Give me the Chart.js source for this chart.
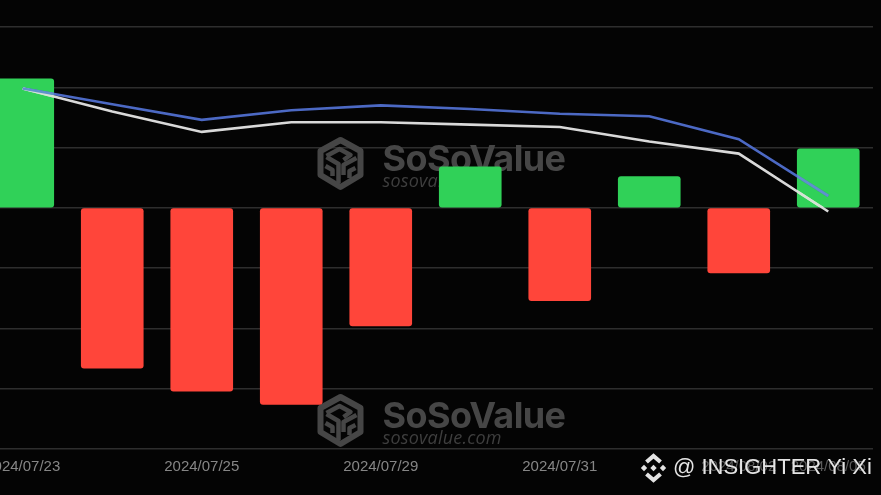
<!DOCTYPE html>
<html>
<head>
<meta charset="utf-8">
<script src="https://cdn.jsdelivr.net/npm/chart.js@4"></script>
<style>
  html, body { margin: 0; padding: 0; background: #040404; overflow: hidden; }
  #wrap { position: absolute; left: -22.5px; top: 0; width: 895px; height: 495px; filter: blur(0.45px); }
</style>
</head>
<body>
<div id="wrap"><canvas id="chart"></canvas></div>
<script>
const categories = ['2024/07/23', '2024/07/24', '2024/07/25', '2024/07/26', '2024/07/29',
  '2024/07/30', '2024/07/31', '2024/08/01', '2024/08/02', '2024/08/05'];
const netFlow = [107, -133, -152, -163, -98, 34, -77, 26, -54, 49];
const blueLine = [99, 86, 73, 81, 85, 82, 78, 76, 57, 10];
const whiteLine = [99, 80, 63, 71, 71, 69, 67, 55, 45, -3];
const GREEN = '#30d158';
const RED = '#ff453a';

// SoSoValue logo + text, goes under the bars
function drawLogo(ctx, x, y) {
  ctx.save();
  ctx.strokeStyle = '#464646';
  ctx.lineWidth = 6;
  ctx.lineJoin = 'round';
  ctx.beginPath();
  ctx.moveTo(x, y - 23);
  ctx.lineTo(x + 20, y - 12);
  ctx.lineTo(x + 20, y + 12);
  ctx.lineTo(x, y + 24);
  ctx.lineTo(x - 20, y + 12);
  ctx.lineTo(x - 20, y - 12);
  ctx.closePath();
  ctx.stroke();
  ctx.lineWidth = 4.5;
  ctx.beginPath();
  ctx.moveTo(x - 14, y - 7); ctx.lineTo(x - 1, y - 14); ctx.lineTo(x + 10, y - 8); ctx.lineTo(x + 3, y - 3);
  ctx.moveTo(x - 2, y + 20); ctx.lineTo(x - 2, y + 1); ctx.lineTo(x - 14, y - 6);
  ctx.moveTo(x + 16, y - 5); ctx.lineTo(x + 3, y + 2); ctx.lineTo(x + 3, y + 12);
  ctx.moveTo(x - 15, y + 3); ctx.lineTo(x - 8, y + 7); ctx.lineTo(x - 8, y + 13);
  ctx.moveTo(x + 15, y + 5); ctx.lineTo(x + 9, y + 8); ctx.lineTo(x + 9, y + 15);
  ctx.stroke();
  ctx.fillStyle = '#464646';
  ctx.textBaseline = 'alphabetic';
  ctx.font = 'bold 36px Inter, "Liberation Sans"';
  ctx.letterSpacing = '-0.6px';
  ctx.fillText('SoSoValue', x + 42, y + 8);
  ctx.letterSpacing = '0.2px';
  ctx.font = 'italic 18px "Open Sans", "Liberation Sans"';
  ctx.fillStyle = '#3e3e3e';
  ctx.fillText('sosovalue.com', x + 42, y + 24);
  ctx.restore();
}

// Binance mark: centre + side diamonds, chevrons above and below
function drawCreditMark(ctx, cx, cy) {
  const diamond = (x, y, r) => {
    ctx.beginPath();
    ctx.moveTo(x, y - r);
    ctx.lineTo(x + r, y);
    ctx.lineTo(x, y + r);
    ctx.lineTo(x - r, y);
    ctx.closePath();
    ctx.fill();
  };
  diamond(cx, cy, 3.2);
  diamond(cx - 9.5, cy, 3.2);
  diamond(cx + 9.5, cy, 3.2);
  ctx.lineWidth = 4.2;
  ctx.beginPath();
  ctx.moveTo(cx - 7, cy - 6); ctx.lineTo(cx, cy - 12); ctx.lineTo(cx + 7, cy - 6);
  ctx.moveTo(cx - 7, cy + 6); ctx.lineTo(cx, cy + 12); ctx.lineTo(cx + 7, cy + 6);
  ctx.stroke();
}

const watermarkPlugin = {
  id: 'watermark',
  beforeDatasetsDraw(chart) {
    drawLogo(chart.ctx, 362.5, 163);
    drawLogo(chart.ctx, 362.5, 420);
  },
  afterDatasetsDraw(chart) {
    // the lines turn paler where they cross the two end green bars
    const ctx = chart.ctx;
    const bars = chart.getDatasetMeta(2).data;
    [0, 9].forEach(i => {
      const b = bars[i];
      ctx.save();
      ctx.beginPath();
      ctx.rect(b.x - b.width / 2, Math.min(b.y, b.base), b.width, Math.abs(b.base - b.y));
      ctx.clip();
      [[0, '#d5e4d5'], [1, '#5f93cc']].forEach(([ds, color]) => {
        const pts = chart.getDatasetMeta(ds).data;
        ctx.strokeStyle = color;
        ctx.lineWidth = 2.6;
        ctx.beginPath();
        pts.forEach((p, k) => k ? ctx.lineTo(p.x, p.y) : ctx.moveTo(p.x, p.y));
        ctx.stroke();
      });
      ctx.restore();
    });
  },
  // Binance square credit sits on top of everything
  afterDraw(chart) {
    const ctx = chart.ctx;
    ctx.save();
    ctx.fillStyle = '#e4e4e4';
    ctx.strokeStyle = '#e4e4e4';
    drawCreditMark(ctx, 675.5, 468);
    ctx.font = '22px "Liberation Sans"';
    ctx.textBaseline = 'middle';
    ctx.fillText('@ INSIGHTER Yi Xi', 695, 468);
    ctx.restore();
  }
};

new Chart(document.getElementById('chart'), {
  data: {
    labels: categories,
    datasets: [
      {
        type: 'line',
        data: whiteLine,
        borderColor: '#d9d9d9',
        borderWidth: 2.6,
        pointRadius: 0,
        tension: 0,
        order: 1
      },
      {
        type: 'line',
        data: blueLine,
        borderColor: '#4c69c4',
        borderWidth: 2.6,
        pointRadius: 0,
        tension: 0,
        order: 2
      },
      {
        type: 'bar',
        data: netFlow,
        backgroundColor: netFlow.map(v => v >= 0 ? GREEN : RED),
        barThickness: 62,
        borderRadius: 3,
        borderSkipped: false,
        order: 3
      }
    ]
  },
  options: {
    responsive: true,
    maintainAspectRatio: false,
    animation: false,
    layout: { padding: { top: 27, bottom: 18, left: 0, right: 0 } },
    plugins: { legend: { display: false }, tooltip: { enabled: false } },
    scales: {
      x: {
        grid: { display: false },
        border: { display: false },
        // keep the plot full width, the first label is meant to run off the page
        afterFit(scale) { scale.paddingLeft = 0; scale.paddingRight = 0; },
        ticks: {
          autoSkip: false,
          maxRotation: 0,
          color: ctx => ctx.index >= 8 ? '#5c5c5c' : '#868686',
          font: { size: 15, family: '"Liberation Sans"' },
          padding: 1,
          callback(value, index) { return index % 2 === 0 || index === 9 ? categories[index] : ''; }
        }
      },
      y: {
        min: -200,
        max: 150,
        afterFit(scale) { scale.width = 0; },
        grid: { color: '#2e2e2e', lineWidth: 1.5, drawTicks: false },
        border: { display: false },
        ticks: { stepSize: 50, display: false }
      }
    }
  },
  plugins: [watermarkPlugin]
});
</script>
</body>
</html>
